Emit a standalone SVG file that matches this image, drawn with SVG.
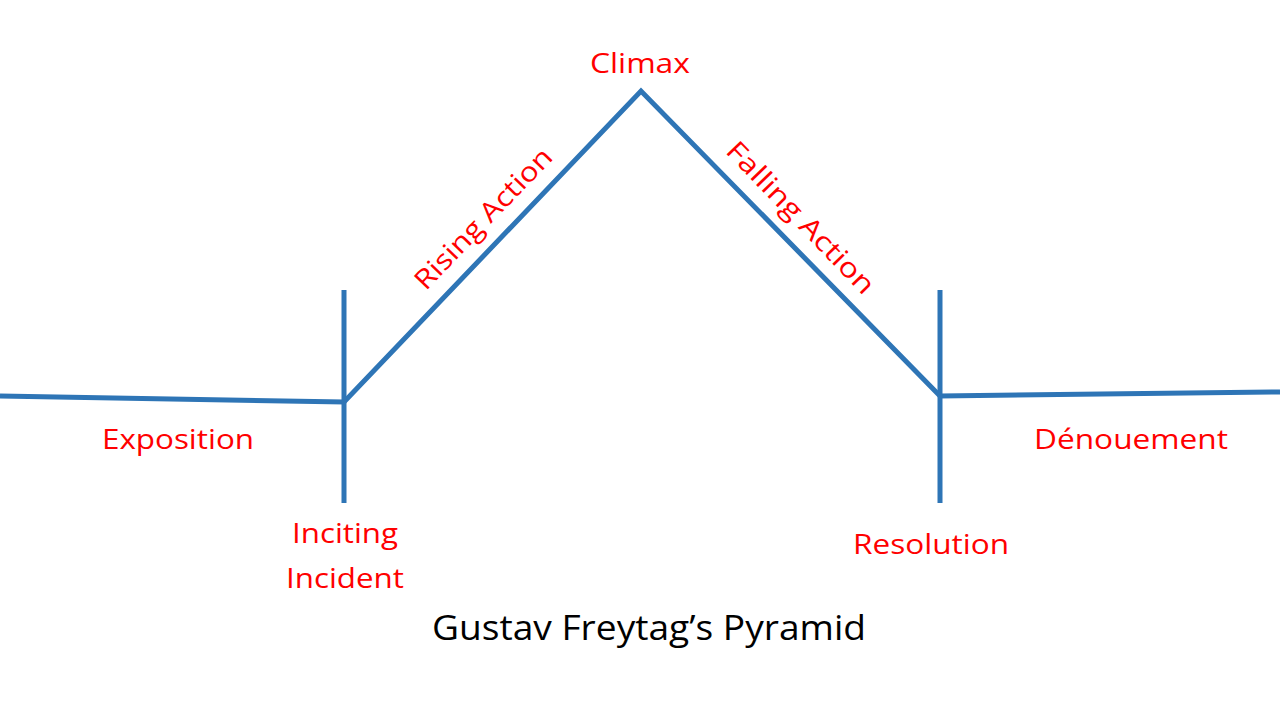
<svg xmlns="http://www.w3.org/2000/svg" width="1280" height="720" viewBox="0 0 1280 720">
<style>
.l{stroke:#2E75B6;stroke-width:5;fill:none;stroke-linecap:butt;stroke-linejoin:miter}
.t{font-family:"Open Sans","Liberation Sans",sans-serif;font-size:27px;fill:#FF0000;text-anchor:middle}
</style>
<rect width="1280" height="720" fill="#fff"/>
<g id="connectors">
<polyline class="l" points="0,396 344,402 641,91 940,396 1280,392"/>
<line class="l" x1="344" y1="290" x2="344" y2="503"/>
<line class="l" x1="940" y1="290" x2="940" y2="503"/>
</g>
<g id="climax"><text class="t" x="640" y="73" textLength="100" lengthAdjust="spacingAndGlyphs">Climax</text></g>
<g id="rising"><text class="t" transform="translate(490,225) rotate(-46)" x="0" y="0" textLength="185" lengthAdjust="spacingAndGlyphs">Rising Action</text></g>
<g id="falling"><text class="t" transform="translate(794,224) rotate(46)" x="0" y="0" textLength="200" lengthAdjust="spacingAndGlyphs">Falling Action</text></g>
<g id="exposition"><text class="t" x="178" y="449" textLength="152" lengthAdjust="spacingAndGlyphs">Exposition</text></g>
<g id="denouement"><text class="t" x="1131" y="449" textLength="194" lengthAdjust="spacingAndGlyphs">Dénouement</text></g>
<g id="inciting"><text class="t" x="345" y="543" textLength="106" lengthAdjust="spacingAndGlyphs">Inciting</text><text class="t" x="345" y="588" textLength="118" lengthAdjust="spacingAndGlyphs">Incident</text></g>
<g id="resolution"><text class="t" x="931" y="554" textLength="156" lengthAdjust="spacingAndGlyphs">Resolution</text></g>
<g id="title"><text x="649" y="640" font-family="Open Sans, Liberation Sans, sans-serif" font-size="34" fill="#000" text-anchor="middle" textLength="434" lengthAdjust="spacingAndGlyphs">Gustav Freytag’s Pyramid</text></g>
</svg>
